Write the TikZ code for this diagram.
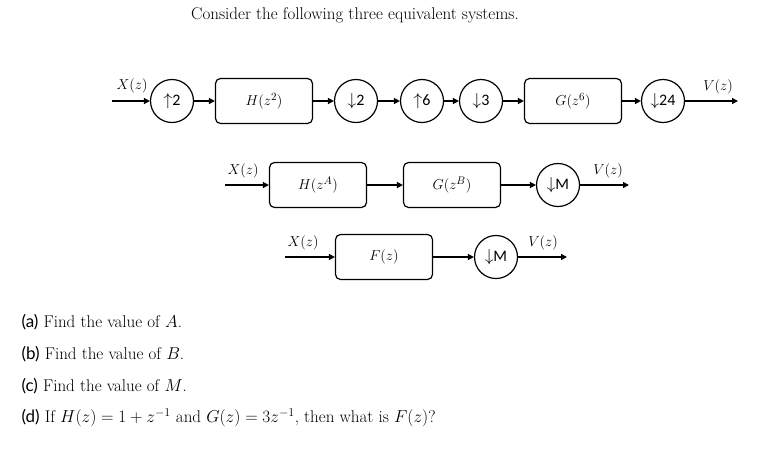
\documentclass[tikz,border=0pt]{standalone}
\usepackage{fontspec}
\newfontfamily\calfnt{Carlito}
\newfontfamily\latofnt{Lato}
\usetikzlibrary{arrows.meta}
\begin{document}
\begin{tikzpicture}[x=1pt,y=-1pt,
 blk/.style={draw,line width=1.2pt,rounded corners=5pt,minimum width=97pt,minimum height=45pt,inner sep=0pt,font=\fontsize{15}{18}\selectfont},
 cir/.style={draw,circle,line width=1.2pt,minimum size=43pt,inner sep=0pt,font=\calfnt\fontsize{16}{18}\selectfont},
 ar/.style={line width=1.6pt,-{Triangle[length=6pt,width=6pt]}},
 lab/.style={font=\fontsize{15}{18}\selectfont},
 q/.style={anchor=west,font=\fontsize{17}{20}\selectfont}]
\useasboundingbox (0,0) rectangle (757,451);
\node[font=\fontsize{17}{20}\selectfont] (t) at (355,15) {Consider the following three equivalent systems.};
% row 1
\coordinate (i1) at (112,101);
\node[cir] (u2) at (172,101) {$\uparrow$2};
\node[blk] (h1) at (264,101) {$H(z^2)$};
\node[cir] (d2) at (356,101) {$\downarrow$2};
\node[cir] (u6) at (422,101) {$\uparrow$6};
\node[cir] (d3) at (481,101) {$\downarrow$3};
\node[blk] (g1) at (573,101) {$G(z^6)$};
\node[cir] (d24) at (663,101) {$\downarrow$24};
\coordinate (o1) at (738,101);
\draw[ar] (i1)--(u2); \draw[ar] (u2)--(h1); \draw[ar] (h1)--(d2);
\draw[ar] (d2)--(u6); \draw[ar] (u6)--(d3); \draw[ar] (d3)--(g1);
\draw[ar] (g1)--(d24); \draw[ar] (d24)--(o1);
\node[lab] (x1) at (132,86) {$X(z)$};
\node[lab] (v1) at (718,87) {$V(z)$};
% row 2
\coordinate (i2) at (225,185);
\node[blk] (h2) at (318,185) {$H(z^A)$};
\node[blk] (g2) at (452,185) {$G(z^B)$};
\node[cir] (m2) at (558,185) {$\downarrow$M};
\coordinate (o2) at (629,185);
\draw[ar] (i2)--(h2); \draw[ar] (h2)--(g2); \draw[ar] (g2)--(m2); \draw[ar] (m2)--(o2);
\node[lab] (x2) at (243,171) {$X(z)$};
\node[lab] (v2) at (608,171) {$V(z)$};
% row 3
\coordinate (i3) at (285,257);
\node[blk] (f3) at (384,257) {$F(z)$};
\node[cir] (m3) at (496,257) {$\downarrow$M};
\coordinate (o3) at (567,257);
\draw[ar] (i3)--(f3); \draw[ar] (f3)--(m3); \draw[ar] (m3)--(o3);
\node[lab] (x3) at (303,243) {$X(z)$};
\node[lab] (v3) at (543,243) {$V(z)$};
% questions
\node[q] (qa) at (18,322) {{\latofnt(a)} Find the value of $A$.};
\node[q] (qb) at (18,354) {{\latofnt(b)} Find the value of $B$.};
\node[q] (qc) at (18,386) {{\latofnt(c)} Find the value of $M$.};
\node[q] (qd) at (18,418) {{\latofnt(d)} If $H(z)=1+z^{-1}$ and $G(z)=3z^{-1}$, then what is $F(z)$?};
\end{tikzpicture}
\end{document}
